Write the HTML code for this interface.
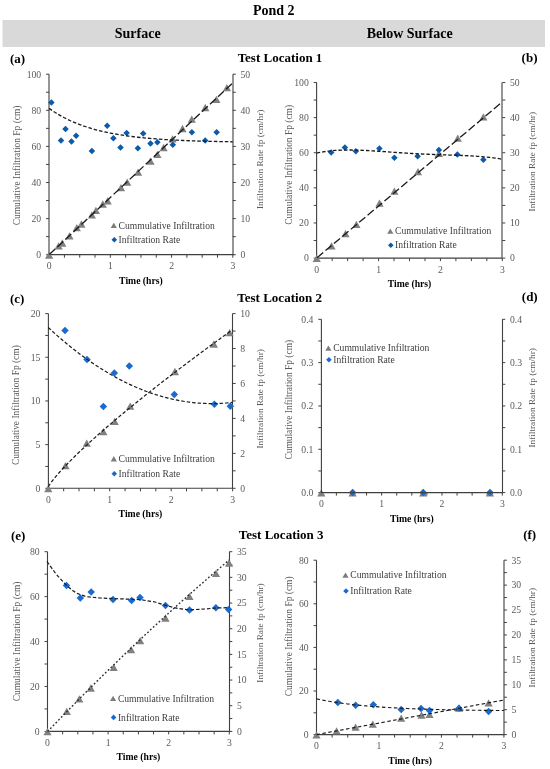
<!DOCTYPE html><html><head><meta charset="utf-8"><style>html,body{margin:0;padding:0;background:#fff;}svg{display:block;filter:blur(0.3px);font-family:"Liberation Serif",serif;}</style></head><body>
<svg width="550" height="769" viewBox="0 0 550 769" font-family='"Liberation Serif", serif' font-size="9.7" fill="#595959">
<rect x="0" y="0" width="550" height="769" fill="#fff"/>
<rect x="2.5" y="20" width="542.5" height="27" fill="#d9d9d9"/>
<text x="273.7" y="15" text-anchor="middle" font-size="14" font-weight="bold" fill="#000">Pond 2</text>
<text x="137.7" y="38.3" text-anchor="middle" font-size="14" font-weight="bold" fill="#000">Surface</text>
<text x="409.7" y="38.3" text-anchor="middle" font-size="14" font-weight="bold" fill="#000">Below Surface</text>
<text x="280" y="62" text-anchor="middle" font-size="13" font-weight="bold" fill="#000">Test Location 1</text>
<text x="279.7" y="301.6" text-anchor="middle" font-size="13" font-weight="bold" fill="#000">Test Location 2</text>
<text x="281.2" y="538.6" text-anchor="middle" font-size="13" font-weight="bold" fill="#000">Test Location 3</text>
<text x="10" y="62.5" font-size="13" font-weight="bold" fill="#000">(a)</text>
<text x="521.6" y="61.8" font-size="13" font-weight="bold" fill="#000">(b)</text>
<text x="10" y="302.5" font-size="13" font-weight="bold" fill="#000">(c)</text>
<text x="521.8" y="301.4" font-size="13" font-weight="bold" fill="#000">(d)</text>
<text x="10.9" y="540" font-size="13" font-weight="bold" fill="#000">(e)</text>
<text x="523.2" y="538.6" font-size="13" font-weight="bold" fill="#000">(f)</text>
<line x1="46.10" y1="254.70" x2="49.10" y2="254.70" stroke="#404040" stroke-width="1"/>
<text x="41.20" y="258.00" text-anchor="end">0</text>
<line x1="46.10" y1="236.65" x2="49.10" y2="236.65" stroke="#404040" stroke-width="1"/>
<line x1="46.10" y1="218.60" x2="49.10" y2="218.60" stroke="#404040" stroke-width="1"/>
<text x="41.20" y="221.90" text-anchor="end">20</text>
<line x1="46.10" y1="200.55" x2="49.10" y2="200.55" stroke="#404040" stroke-width="1"/>
<line x1="46.10" y1="182.50" x2="49.10" y2="182.50" stroke="#404040" stroke-width="1"/>
<text x="41.20" y="185.80" text-anchor="end">40</text>
<line x1="46.10" y1="164.45" x2="49.10" y2="164.45" stroke="#404040" stroke-width="1"/>
<line x1="46.10" y1="146.40" x2="49.10" y2="146.40" stroke="#404040" stroke-width="1"/>
<text x="41.20" y="149.70" text-anchor="end">60</text>
<line x1="46.10" y1="128.35" x2="49.10" y2="128.35" stroke="#404040" stroke-width="1"/>
<line x1="46.10" y1="110.30" x2="49.10" y2="110.30" stroke="#404040" stroke-width="1"/>
<text x="41.20" y="113.60" text-anchor="end">80</text>
<line x1="46.10" y1="92.25" x2="49.10" y2="92.25" stroke="#404040" stroke-width="1"/>
<line x1="46.10" y1="74.20" x2="49.10" y2="74.20" stroke="#404040" stroke-width="1"/>
<text x="41.20" y="77.50" text-anchor="end">100</text>
<line x1="232.80" y1="254.70" x2="235.80" y2="254.70" stroke="#404040" stroke-width="1"/>
<text x="240.40" y="258.00">0</text>
<line x1="232.80" y1="236.65" x2="235.80" y2="236.65" stroke="#404040" stroke-width="1"/>
<line x1="232.80" y1="218.60" x2="235.80" y2="218.60" stroke="#404040" stroke-width="1"/>
<text x="240.40" y="221.90">10</text>
<line x1="232.80" y1="200.55" x2="235.80" y2="200.55" stroke="#404040" stroke-width="1"/>
<line x1="232.80" y1="182.50" x2="235.80" y2="182.50" stroke="#404040" stroke-width="1"/>
<text x="240.40" y="185.80">20</text>
<line x1="232.80" y1="164.45" x2="235.80" y2="164.45" stroke="#404040" stroke-width="1"/>
<line x1="232.80" y1="146.40" x2="235.80" y2="146.40" stroke="#404040" stroke-width="1"/>
<text x="240.40" y="149.70">30</text>
<line x1="232.80" y1="128.35" x2="235.80" y2="128.35" stroke="#404040" stroke-width="1"/>
<line x1="232.80" y1="110.30" x2="235.80" y2="110.30" stroke="#404040" stroke-width="1"/>
<text x="240.40" y="113.60">40</text>
<line x1="232.80" y1="92.25" x2="235.80" y2="92.25" stroke="#404040" stroke-width="1"/>
<line x1="232.80" y1="74.20" x2="235.80" y2="74.20" stroke="#404040" stroke-width="1"/>
<text x="240.40" y="77.50">50</text>
<line x1="49.10" y1="254.70" x2="49.10" y2="257.70" stroke="#404040" stroke-width="1"/>
<text x="49.10" y="269.40" text-anchor="middle">0</text>
<line x1="64.41" y1="254.70" x2="64.41" y2="257.70" stroke="#404040" stroke-width="1"/>
<line x1="79.72" y1="254.70" x2="79.72" y2="257.70" stroke="#404040" stroke-width="1"/>
<line x1="95.03" y1="254.70" x2="95.03" y2="257.70" stroke="#404040" stroke-width="1"/>
<line x1="110.33" y1="254.70" x2="110.33" y2="257.70" stroke="#404040" stroke-width="1"/>
<text x="110.33" y="269.40" text-anchor="middle">1</text>
<line x1="125.64" y1="254.70" x2="125.64" y2="257.70" stroke="#404040" stroke-width="1"/>
<line x1="140.95" y1="254.70" x2="140.95" y2="257.70" stroke="#404040" stroke-width="1"/>
<line x1="156.26" y1="254.70" x2="156.26" y2="257.70" stroke="#404040" stroke-width="1"/>
<line x1="171.57" y1="254.70" x2="171.57" y2="257.70" stroke="#404040" stroke-width="1"/>
<text x="171.57" y="269.40" text-anchor="middle">2</text>
<line x1="186.88" y1="254.70" x2="186.88" y2="257.70" stroke="#404040" stroke-width="1"/>
<line x1="202.18" y1="254.70" x2="202.18" y2="257.70" stroke="#404040" stroke-width="1"/>
<line x1="217.49" y1="254.70" x2="217.49" y2="257.70" stroke="#404040" stroke-width="1"/>
<line x1="232.80" y1="254.70" x2="232.80" y2="257.70" stroke="#404040" stroke-width="1"/>
<text x="232.80" y="269.40" text-anchor="middle">3</text>
<path d="M49.00 74.20V254.60H233.00V74.20" fill="none" stroke="#404040" stroke-width="1.1"/>
<text transform="translate(20.40,165.40) rotate(-90)" text-anchor="middle" font-size="9.45">Cumulative Infiltration Fp (cm)</text>
<text transform="translate(263.00,159.30) rotate(-90)" text-anchor="middle" font-size="9.25">Infiltration Rate fp (cm/hr)</text>
<text x="140.95" y="283.60" text-anchor="middle" font-weight="bold" fill="#000" font-size="9.7">Time (hrs)</text>
<path d="M110.70 228.10L113.80 222.70L116.90 228.10Z" fill="#7c7c7c"/>
<text x="118.60" y="228.50" font-size="9.6" fill="#404040">Cummulative Infiltration</text>
<path d="M114.30 237.00L117.10 239.80L114.30 242.60L111.50 239.80Z" fill="#0c5aa8"/>
<text x="118.60" y="242.90" font-size="9.6" fill="#404040">Infiltration Rate</text>
<path d="M45.00 258.65L49.10 251.35L53.20 258.65Z" fill="#808080"/>
<path d="M54.50 249.45L58.60 242.15L62.70 249.45Z" fill="#808080"/>
<path d="M58.20 246.65L62.30 239.35L66.40 246.65Z" fill="#808080"/>
<path d="M65.40 239.45L69.50 232.15L73.60 239.45Z" fill="#808080"/>
<path d="M72.70 231.25L76.80 223.95L80.90 231.25Z" fill="#808080"/>
<path d="M77.30 227.65L81.40 220.35L85.50 227.65Z" fill="#808080"/>
<path d="M87.80 218.55L91.90 211.25L96.00 218.55Z" fill="#808080"/>
<path d="M91.80 213.95L95.90 206.65L100.00 213.95Z" fill="#808080"/>
<path d="M98.70 207.65L102.80 200.35L106.90 207.65Z" fill="#808080"/>
<path d="M103.60 204.55L107.70 197.25L111.80 204.55Z" fill="#808080"/>
<path d="M116.90 191.25L121.00 183.95L125.10 191.25Z" fill="#808080"/>
<path d="M123.10 185.75L127.20 178.45L131.30 185.75Z" fill="#808080"/>
<path d="M134.00 175.75L138.10 168.45L142.20 175.75Z" fill="#808080"/>
<path d="M146.40 164.85L150.50 157.55L154.60 164.85Z" fill="#808080"/>
<path d="M153.30 157.95L157.40 150.65L161.50 157.95Z" fill="#808080"/>
<path d="M159.50 151.15L163.60 143.85L167.70 151.15Z" fill="#808080"/>
<path d="M168.40 142.45L172.50 135.15L176.60 142.45Z" fill="#808080"/>
<path d="M178.40 132.15L182.50 124.85L186.60 132.15Z" fill="#808080"/>
<path d="M187.70 122.85L191.80 115.55L195.90 122.85Z" fill="#808080"/>
<path d="M201.20 111.15L205.30 103.85L209.40 111.15Z" fill="#808080"/>
<path d="M212.30 103.05L216.40 95.75L220.50 103.05Z" fill="#808080"/>
<path d="M222.80 91.35L226.90 84.05L231.00 91.35Z" fill="#808080"/>
<path d="M51.40 99.15L54.65 102.40L51.40 105.65L48.15 102.40Z" fill="#0c5aa8"/>
<path d="M61.00 137.15L64.25 140.40L61.00 143.65L57.75 140.40Z" fill="#0c5aa8"/>
<path d="M65.50 125.85L68.75 129.10L65.50 132.35L62.25 129.10Z" fill="#0c5aa8"/>
<path d="M71.50 138.25L74.75 141.50L71.50 144.75L68.25 141.50Z" fill="#0c5aa8"/>
<path d="M76.10 132.55L79.35 135.80L76.10 139.05L72.85 135.80Z" fill="#0c5aa8"/>
<path d="M91.90 147.65L95.15 150.90L91.90 154.15L88.65 150.90Z" fill="#0c5aa8"/>
<path d="M107.20 122.55L110.45 125.80L107.20 129.05L103.95 125.80Z" fill="#0c5aa8"/>
<path d="M113.40 134.95L116.65 138.20L113.40 141.45L110.15 138.20Z" fill="#0c5aa8"/>
<path d="M120.50 144.35L123.75 147.60L120.50 150.85L117.25 147.60Z" fill="#0c5aa8"/>
<path d="M126.60 129.65L129.85 132.90L126.60 136.15L123.35 132.90Z" fill="#0c5aa8"/>
<path d="M137.90 144.95L141.15 148.20L137.90 151.45L134.65 148.20Z" fill="#0c5aa8"/>
<path d="M143.20 130.35L146.45 133.60L143.20 136.85L139.95 133.60Z" fill="#0c5aa8"/>
<path d="M150.50 140.35L153.75 143.60L150.50 146.85L147.25 143.60Z" fill="#0c5aa8"/>
<path d="M157.40 138.95L160.65 142.20L157.40 145.45L154.15 142.20Z" fill="#0c5aa8"/>
<path d="M172.80 141.45L176.05 144.70L172.80 147.95L169.55 144.70Z" fill="#0c5aa8"/>
<path d="M191.90 128.95L195.15 132.20L191.90 135.45L188.65 132.20Z" fill="#0c5aa8"/>
<path d="M205.20 137.15L208.45 140.40L205.20 143.65L201.95 140.40Z" fill="#0c5aa8"/>
<path d="M216.60 128.95L219.85 132.20L216.60 135.45L213.35 132.20Z" fill="#0c5aa8"/>
<path d="M49.30 254.50L232.80 82.90" fill="none" stroke="#1a1a1a" stroke-width="1.3" stroke-dasharray="8 3"/>
<path d="M49.10 108.38L52.16 110.51L55.22 112.51L58.29 114.38L61.35 116.13L64.41 117.78L67.47 119.32L70.53 120.77L73.59 122.12L76.66 123.40L79.72 124.59L82.78 125.71L85.84 126.76L88.90 127.74L91.96 128.66L95.03 129.52L98.09 130.33L101.15 131.09L104.21 131.80L107.27 132.47L110.33 133.10L113.40 133.68L116.46 134.23L119.52 134.75L122.58 135.23L125.64 135.69L128.70 136.11L131.77 136.51L134.83 136.89L137.89 137.24L140.95 137.56L144.01 137.87L147.07 138.16L150.14 138.43L153.20 138.69L156.26 138.92L159.32 139.15L162.38 139.36L165.44 139.55L168.51 139.74L171.57 139.91L174.63 140.07L177.69 140.22L180.75 140.36L183.81 140.50L186.88 140.62L189.94 140.74L193.00 140.85L196.06 140.95L199.12 141.05L202.18 141.14L205.25 141.22L208.31 141.30L211.37 141.38L214.43 141.45L217.49 141.51L220.55 141.58L223.62 141.63L226.68 141.69L229.74 141.74L232.80 141.79" fill="none" stroke="#1a1a1a" stroke-width="1.3" stroke-dasharray="3.5 2"/>
<line x1="313.70" y1="258.10" x2="316.70" y2="258.10" stroke="#404040" stroke-width="1"/>
<text x="308.80" y="261.40" text-anchor="end">0</text>
<line x1="313.70" y1="240.54" x2="316.70" y2="240.54" stroke="#404040" stroke-width="1"/>
<line x1="313.70" y1="222.98" x2="316.70" y2="222.98" stroke="#404040" stroke-width="1"/>
<text x="308.80" y="226.28" text-anchor="end">20</text>
<line x1="313.70" y1="205.42" x2="316.70" y2="205.42" stroke="#404040" stroke-width="1"/>
<line x1="313.70" y1="187.86" x2="316.70" y2="187.86" stroke="#404040" stroke-width="1"/>
<text x="308.80" y="191.16" text-anchor="end">40</text>
<line x1="313.70" y1="170.30" x2="316.70" y2="170.30" stroke="#404040" stroke-width="1"/>
<line x1="313.70" y1="152.74" x2="316.70" y2="152.74" stroke="#404040" stroke-width="1"/>
<text x="308.80" y="156.04" text-anchor="end">60</text>
<line x1="313.70" y1="135.18" x2="316.70" y2="135.18" stroke="#404040" stroke-width="1"/>
<line x1="313.70" y1="117.62" x2="316.70" y2="117.62" stroke="#404040" stroke-width="1"/>
<text x="308.80" y="120.92" text-anchor="end">80</text>
<line x1="313.70" y1="100.06" x2="316.70" y2="100.06" stroke="#404040" stroke-width="1"/>
<line x1="313.70" y1="82.50" x2="316.70" y2="82.50" stroke="#404040" stroke-width="1"/>
<text x="308.80" y="85.80" text-anchor="end">100</text>
<line x1="502.30" y1="258.10" x2="505.30" y2="258.10" stroke="#404040" stroke-width="1"/>
<text x="509.90" y="261.40">0</text>
<line x1="502.30" y1="240.54" x2="505.30" y2="240.54" stroke="#404040" stroke-width="1"/>
<line x1="502.30" y1="222.98" x2="505.30" y2="222.98" stroke="#404040" stroke-width="1"/>
<text x="509.90" y="226.28">10</text>
<line x1="502.30" y1="205.42" x2="505.30" y2="205.42" stroke="#404040" stroke-width="1"/>
<line x1="502.30" y1="187.86" x2="505.30" y2="187.86" stroke="#404040" stroke-width="1"/>
<text x="509.90" y="191.16">20</text>
<line x1="502.30" y1="170.30" x2="505.30" y2="170.30" stroke="#404040" stroke-width="1"/>
<line x1="502.30" y1="152.74" x2="505.30" y2="152.74" stroke="#404040" stroke-width="1"/>
<text x="509.90" y="156.04">30</text>
<line x1="502.30" y1="135.18" x2="505.30" y2="135.18" stroke="#404040" stroke-width="1"/>
<line x1="502.30" y1="117.62" x2="505.30" y2="117.62" stroke="#404040" stroke-width="1"/>
<text x="509.90" y="120.92">40</text>
<line x1="502.30" y1="100.06" x2="505.30" y2="100.06" stroke="#404040" stroke-width="1"/>
<line x1="502.30" y1="82.50" x2="505.30" y2="82.50" stroke="#404040" stroke-width="1"/>
<text x="509.90" y="85.80">50</text>
<line x1="316.70" y1="258.10" x2="316.70" y2="261.10" stroke="#404040" stroke-width="1"/>
<text x="316.70" y="272.80" text-anchor="middle">0</text>
<line x1="332.17" y1="258.10" x2="332.17" y2="261.10" stroke="#404040" stroke-width="1"/>
<line x1="347.63" y1="258.10" x2="347.63" y2="261.10" stroke="#404040" stroke-width="1"/>
<line x1="363.10" y1="258.10" x2="363.10" y2="261.10" stroke="#404040" stroke-width="1"/>
<line x1="378.57" y1="258.10" x2="378.57" y2="261.10" stroke="#404040" stroke-width="1"/>
<text x="378.57" y="272.80" text-anchor="middle">1</text>
<line x1="394.03" y1="258.10" x2="394.03" y2="261.10" stroke="#404040" stroke-width="1"/>
<line x1="409.50" y1="258.10" x2="409.50" y2="261.10" stroke="#404040" stroke-width="1"/>
<line x1="424.97" y1="258.10" x2="424.97" y2="261.10" stroke="#404040" stroke-width="1"/>
<line x1="440.43" y1="258.10" x2="440.43" y2="261.10" stroke="#404040" stroke-width="1"/>
<text x="440.43" y="272.80" text-anchor="middle">2</text>
<line x1="455.90" y1="258.10" x2="455.90" y2="261.10" stroke="#404040" stroke-width="1"/>
<line x1="471.37" y1="258.10" x2="471.37" y2="261.10" stroke="#404040" stroke-width="1"/>
<line x1="486.83" y1="258.10" x2="486.83" y2="261.10" stroke="#404040" stroke-width="1"/>
<line x1="502.30" y1="258.10" x2="502.30" y2="261.10" stroke="#404040" stroke-width="1"/>
<text x="502.30" y="272.80" text-anchor="middle">3</text>
<path d="M316.60 82.50V258.10H502.00V82.50" fill="none" stroke="#404040" stroke-width="1.1"/>
<text transform="translate(292.00,164.80) rotate(-90)" text-anchor="middle" font-size="9.45">Cumulative Infiltration Fp (cm)</text>
<text transform="translate(534.80,161.70) rotate(-90)" text-anchor="middle" font-size="9.25">Infiltration Rate fp (cm/hr)</text>
<text x="409.50" y="287.00" text-anchor="middle" font-weight="bold" fill="#000" font-size="9.7">Time (hrs)</text>
<path d="M387.20 233.80L390.30 228.40L393.40 233.80Z" fill="#7c7c7c"/>
<text x="395.10" y="234.20" font-size="9.6" fill="#404040">Cummulative Infiltration</text>
<path d="M390.80 242.50L393.60 245.30L390.80 248.10L388.00 245.30Z" fill="#0c5aa8"/>
<text x="395.10" y="248.40" font-size="9.6" fill="#404040">Infiltration Rate</text>
<path d="M312.60 262.05L316.70 254.75L320.80 262.05Z" fill="#808080"/>
<path d="M327.40 249.55L331.50 242.25L335.60 249.55Z" fill="#808080"/>
<path d="M341.40 237.35L345.50 230.05L349.60 237.35Z" fill="#808080"/>
<path d="M352.30 228.05L356.40 220.75L360.50 228.05Z" fill="#808080"/>
<path d="M375.40 206.75L379.50 199.45L383.60 206.75Z" fill="#808080"/>
<path d="M390.30 194.85L394.40 187.55L398.50 194.85Z" fill="#808080"/>
<path d="M413.90 175.25L418.00 167.95L422.10 175.25Z" fill="#808080"/>
<path d="M434.80 157.05L438.90 149.75L443.00 157.05Z" fill="#808080"/>
<path d="M453.70 141.75L457.80 134.45L461.90 141.75Z" fill="#808080"/>
<path d="M479.30 120.45L483.40 113.15L487.50 120.45Z" fill="#808080"/>
<path d="M331.20 149.25L334.45 152.50L331.20 155.75L327.95 152.50Z" fill="#0c5aa8"/>
<path d="M344.90 144.25L348.15 147.50L344.90 150.75L341.65 147.50Z" fill="#0c5aa8"/>
<path d="M355.80 147.95L359.05 151.20L355.80 154.45L352.55 151.20Z" fill="#0c5aa8"/>
<path d="M379.40 145.25L382.65 148.50L379.40 151.75L376.15 148.50Z" fill="#0c5aa8"/>
<path d="M394.40 154.45L397.65 157.70L394.40 160.95L391.15 157.70Z" fill="#0c5aa8"/>
<path d="M417.60 152.95L420.85 156.20L417.60 159.45L414.35 156.20Z" fill="#0c5aa8"/>
<path d="M438.90 146.65L442.15 149.90L438.90 153.15L435.65 149.90Z" fill="#0c5aa8"/>
<path d="M457.40 151.15L460.65 154.40L457.40 157.65L454.15 154.40Z" fill="#0c5aa8"/>
<path d="M483.40 156.55L486.65 159.80L483.40 163.05L480.15 159.80Z" fill="#0c5aa8"/>
<path d="M317.10 257.70L502.30 101.90" fill="none" stroke="#1a1a1a" stroke-width="1.3" stroke-dasharray="8 3"/>
<path d="M316.70 153.13L319.79 152.48L322.89 151.92L325.98 151.44L329.07 151.05L332.17 150.72L335.26 150.47L338.35 150.27L341.45 150.13L344.54 150.04L347.63 150.00L350.73 150.00L353.82 150.04L356.91 150.11L360.01 150.21L363.10 150.34L366.19 150.49L369.29 150.66L372.38 150.84L375.47 151.03L378.57 151.24L381.66 151.45L384.75 151.67L387.85 151.88L390.94 152.10L394.03 152.32L397.13 152.53L400.22 152.74L403.31 152.94L406.41 153.14L409.50 153.33L412.59 153.51L415.69 153.68L418.78 153.84L421.87 153.99L424.97 154.14L428.06 154.27L431.15 154.40L434.25 154.52L437.34 154.63L440.43 154.74L443.53 154.84L446.62 154.94L449.71 155.04L452.81 155.14L455.90 155.25L458.99 155.36L462.09 155.48L465.18 155.61L468.27 155.75L471.37 155.91L474.46 156.09L477.55 156.29L480.65 156.52L483.74 156.78L486.83 157.08L489.93 157.41L493.02 157.79L496.11 158.22L499.21 158.71L502.30 159.25" fill="none" stroke="#1a1a1a" stroke-width="1.3" stroke-dasharray="3.5 2"/>
<line x1="45.30" y1="488.30" x2="48.30" y2="488.30" stroke="#404040" stroke-width="1"/>
<text x="40.40" y="491.60" text-anchor="end">0</text>
<line x1="45.30" y1="466.46" x2="48.30" y2="466.46" stroke="#404040" stroke-width="1"/>
<line x1="45.30" y1="444.62" x2="48.30" y2="444.62" stroke="#404040" stroke-width="1"/>
<text x="40.40" y="447.93" text-anchor="end">5</text>
<line x1="45.30" y1="422.79" x2="48.30" y2="422.79" stroke="#404040" stroke-width="1"/>
<line x1="45.30" y1="400.95" x2="48.30" y2="400.95" stroke="#404040" stroke-width="1"/>
<text x="40.40" y="404.25" text-anchor="end">10</text>
<line x1="45.30" y1="379.11" x2="48.30" y2="379.11" stroke="#404040" stroke-width="1"/>
<line x1="45.30" y1="357.27" x2="48.30" y2="357.27" stroke="#404040" stroke-width="1"/>
<text x="40.40" y="360.57" text-anchor="end">15</text>
<line x1="45.30" y1="335.44" x2="48.30" y2="335.44" stroke="#404040" stroke-width="1"/>
<line x1="45.30" y1="313.60" x2="48.30" y2="313.60" stroke="#404040" stroke-width="1"/>
<text x="40.40" y="316.90" text-anchor="end">20</text>
<line x1="232.60" y1="488.30" x2="235.60" y2="488.30" stroke="#404040" stroke-width="1"/>
<text x="240.20" y="491.60">0</text>
<line x1="232.60" y1="470.83" x2="235.60" y2="470.83" stroke="#404040" stroke-width="1"/>
<line x1="232.60" y1="453.36" x2="235.60" y2="453.36" stroke="#404040" stroke-width="1"/>
<text x="240.20" y="456.66">2</text>
<line x1="232.60" y1="435.89" x2="235.60" y2="435.89" stroke="#404040" stroke-width="1"/>
<line x1="232.60" y1="418.42" x2="235.60" y2="418.42" stroke="#404040" stroke-width="1"/>
<text x="240.20" y="421.72">4</text>
<line x1="232.60" y1="400.95" x2="235.60" y2="400.95" stroke="#404040" stroke-width="1"/>
<line x1="232.60" y1="383.48" x2="235.60" y2="383.48" stroke="#404040" stroke-width="1"/>
<text x="240.20" y="386.78">6</text>
<line x1="232.60" y1="366.01" x2="235.60" y2="366.01" stroke="#404040" stroke-width="1"/>
<line x1="232.60" y1="348.54" x2="235.60" y2="348.54" stroke="#404040" stroke-width="1"/>
<text x="240.20" y="351.84">8</text>
<line x1="232.60" y1="331.07" x2="235.60" y2="331.07" stroke="#404040" stroke-width="1"/>
<line x1="232.60" y1="313.60" x2="235.60" y2="313.60" stroke="#404040" stroke-width="1"/>
<text x="240.20" y="316.90">10</text>
<line x1="48.30" y1="488.30" x2="48.30" y2="491.30" stroke="#404040" stroke-width="1"/>
<text x="48.30" y="503.00" text-anchor="middle">0</text>
<line x1="63.66" y1="488.30" x2="63.66" y2="491.30" stroke="#404040" stroke-width="1"/>
<line x1="79.02" y1="488.30" x2="79.02" y2="491.30" stroke="#404040" stroke-width="1"/>
<line x1="94.38" y1="488.30" x2="94.38" y2="491.30" stroke="#404040" stroke-width="1"/>
<line x1="109.73" y1="488.30" x2="109.73" y2="491.30" stroke="#404040" stroke-width="1"/>
<text x="109.73" y="503.00" text-anchor="middle">1</text>
<line x1="125.09" y1="488.30" x2="125.09" y2="491.30" stroke="#404040" stroke-width="1"/>
<line x1="140.45" y1="488.30" x2="140.45" y2="491.30" stroke="#404040" stroke-width="1"/>
<line x1="155.81" y1="488.30" x2="155.81" y2="491.30" stroke="#404040" stroke-width="1"/>
<line x1="171.17" y1="488.30" x2="171.17" y2="491.30" stroke="#404040" stroke-width="1"/>
<text x="171.17" y="503.00" text-anchor="middle">2</text>
<line x1="186.52" y1="488.30" x2="186.52" y2="491.30" stroke="#404040" stroke-width="1"/>
<line x1="201.88" y1="488.30" x2="201.88" y2="491.30" stroke="#404040" stroke-width="1"/>
<line x1="217.24" y1="488.30" x2="217.24" y2="491.30" stroke="#404040" stroke-width="1"/>
<line x1="232.60" y1="488.30" x2="232.60" y2="491.30" stroke="#404040" stroke-width="1"/>
<text x="232.60" y="503.00" text-anchor="middle">3</text>
<path d="M48.40 313.60V488.30H232.50V313.60" fill="none" stroke="#404040" stroke-width="1.1"/>
<text transform="translate(18.60,405.10) rotate(-90)" text-anchor="middle" font-size="9.45">Cumulative Infiltration Fp (cm)</text>
<text transform="translate(263.00,398.80) rotate(-90)" text-anchor="middle" font-size="9.25">Infiltration Rate fp (cm/hr)</text>
<text x="140.45" y="517.20" text-anchor="middle" font-weight="bold" fill="#000" font-size="9.7">Time (hrs)</text>
<path d="M110.70 461.50L113.80 456.10L116.90 461.50Z" fill="#7c7c7c"/>
<text x="118.60" y="461.90" font-size="9.6" fill="#404040">Cummulative Infiltration</text>
<path d="M114.30 471.00L117.10 473.80L114.30 476.60L111.50 473.80Z" fill="#1a6bd0"/>
<text x="118.60" y="476.90" font-size="9.6" fill="#404040">Infiltration Rate</text>
<path d="M44.20 492.25L48.30 484.95L52.40 492.25Z" fill="#808080"/>
<path d="M61.40 469.35L65.50 462.05L69.60 469.35Z" fill="#808080"/>
<path d="M82.70 446.75L86.80 439.45L90.90 446.75Z" fill="#808080"/>
<path d="M99.30 435.35L103.40 428.05L107.50 435.35Z" fill="#808080"/>
<path d="M110.60 424.95L114.70 417.65L118.80 424.95Z" fill="#808080"/>
<path d="M126.10 409.75L130.20 402.45L134.30 409.75Z" fill="#808080"/>
<path d="M170.80 375.15L174.90 367.85L179.00 375.15Z" fill="#808080"/>
<path d="M209.80 347.65L213.90 340.35L218.00 347.65Z" fill="#808080"/>
<path d="M225.60 336.35L229.70 329.05L233.80 336.35Z" fill="#808080"/>
<path d="M65.00 326.65L68.75 330.40L65.00 334.15L61.25 330.40Z" fill="#1a6bd0"/>
<path d="M87.00 355.85L90.75 359.60L87.00 363.35L83.25 359.60Z" fill="#1a6bd0"/>
<path d="M103.40 402.65L107.15 406.40L103.40 410.15L99.65 406.40Z" fill="#1a6bd0"/>
<path d="M114.30 369.35L118.05 373.10L114.30 376.85L110.55 373.10Z" fill="#1a6bd0"/>
<path d="M129.30 362.25L133.05 366.00L129.30 369.75L125.55 366.00Z" fill="#1a6bd0"/>
<path d="M174.30 390.75L178.05 394.50L174.30 398.25L170.55 394.50Z" fill="#1a6bd0"/>
<path d="M214.40 400.45L218.15 404.20L214.40 407.95L210.65 404.20Z" fill="#1a6bd0"/>
<path d="M230.30 402.55L234.05 406.30L230.30 410.05L226.55 406.30Z" fill="#1a6bd0"/>
<path d="M48.30 486.71L49.84 484.25L51.37 482.09L52.91 480.08L54.44 478.16L55.98 476.31L57.52 474.51L59.05 472.76L60.59 471.05L62.12 469.37L63.66 467.72L65.19 466.10L66.73 464.50L68.27 462.92L69.80 461.35L71.34 459.81L72.87 458.28L74.41 456.76L75.94 455.26L77.48 453.78L79.02 452.30L80.55 450.84L82.09 449.39L83.62 447.95L85.16 446.51L86.70 445.09L88.23 443.68L89.77 442.27L91.30 440.88L92.84 439.49L94.38 438.11L95.91 436.73L97.45 435.37L98.98 434.01L100.52 432.65L102.05 431.31L103.59 429.96L105.13 428.63L106.66 427.30L108.20 425.98L109.73 424.66L111.27 423.35L112.81 422.04L114.34 420.73L115.88 419.44L117.41 418.14L118.95 416.85L120.48 415.57L122.02 414.29L123.56 413.01L125.09 411.74L126.63 410.47L128.16 409.21L129.70 407.95L131.24 406.69L132.77 405.44L134.31 404.19L135.84 402.95L137.38 401.71L138.91 400.47L140.45 399.23L141.99 398.00L143.52 396.77L145.06 395.55L146.59 394.33L148.13 393.11L149.67 391.89L151.20 390.68L152.74 389.47L154.27 388.26L155.81 387.05L157.34 385.85L158.88 384.65L160.42 383.46L161.95 382.26L163.49 381.07L165.02 379.88L166.56 378.70L168.10 377.51L169.63 376.33L171.17 375.15L172.70 373.98L174.24 372.80L175.77 371.63L177.31 370.46L178.85 369.29L180.38 368.13L181.92 366.97L183.45 365.80L184.99 364.65L186.52 363.49L188.06 362.33L189.60 361.18L191.13 360.03L192.67 358.88L194.20 357.74L195.74 356.59L197.28 355.45L198.81 354.31L200.35 353.17L201.88 352.03L203.42 350.90L204.96 349.76L206.49 348.63L208.03 347.50L209.56 346.37L211.10 345.24L212.63 344.12L214.17 343.00L215.71 341.88L217.24 340.76L218.78 339.64L220.31 338.52L221.85 337.41L223.38 336.29L224.92 335.18L226.46 334.07L227.99 332.96L229.53 331.85L231.06 330.75L232.60 329.64" fill="none" stroke="#1a1a1a" stroke-width="1.2" stroke-dasharray="3.5 2"/>
<path d="M48.30 327.52L51.37 330.35L54.44 333.13L57.52 335.85L60.59 338.52L63.66 341.13L66.73 343.70L69.80 346.20L72.87 348.66L75.94 351.06L79.02 353.40L82.09 355.70L85.16 357.94L88.23 360.12L91.30 362.25L94.38 364.33L97.45 366.36L100.52 368.33L103.59 370.25L106.66 372.11L109.73 373.92L112.81 375.68L115.88 377.38L118.95 379.03L122.02 380.63L125.09 382.17L128.16 383.66L131.24 385.09L134.31 386.47L137.38 387.80L140.45 389.07L143.52 390.30L146.59 391.46L149.67 392.58L152.74 393.63L155.81 394.64L158.88 395.59L161.95 396.49L165.02 397.34L168.10 398.13L171.17 398.87L174.24 399.55L177.31 400.18L180.38 400.76L183.45 401.28L186.52 401.75L189.60 402.17L192.67 402.53L195.74 402.84L198.81 403.10L201.88 403.30L204.96 403.44L208.03 403.54L211.10 403.58L214.17 403.57L217.24 403.50L220.31 403.38L223.38 403.21L226.46 402.98L229.53 402.70L232.60 402.36" fill="none" stroke="#1a1a1a" stroke-width="1.2" stroke-dasharray="3.5 2"/>
<line x1="318.30" y1="492.60" x2="321.30" y2="492.60" stroke="#404040" stroke-width="1"/>
<text x="313.40" y="495.90" text-anchor="end">0.0</text>
<line x1="318.30" y1="470.94" x2="321.30" y2="470.94" stroke="#404040" stroke-width="1"/>
<line x1="318.30" y1="449.28" x2="321.30" y2="449.28" stroke="#404040" stroke-width="1"/>
<text x="313.40" y="452.58" text-anchor="end">0.1</text>
<line x1="318.30" y1="427.61" x2="321.30" y2="427.61" stroke="#404040" stroke-width="1"/>
<line x1="318.30" y1="405.95" x2="321.30" y2="405.95" stroke="#404040" stroke-width="1"/>
<text x="313.40" y="409.25" text-anchor="end">0.2</text>
<line x1="318.30" y1="384.29" x2="321.30" y2="384.29" stroke="#404040" stroke-width="1"/>
<line x1="318.30" y1="362.62" x2="321.30" y2="362.62" stroke="#404040" stroke-width="1"/>
<text x="313.40" y="365.93" text-anchor="end">0.3</text>
<line x1="318.30" y1="340.96" x2="321.30" y2="340.96" stroke="#404040" stroke-width="1"/>
<line x1="318.30" y1="319.30" x2="321.30" y2="319.30" stroke="#404040" stroke-width="1"/>
<text x="313.40" y="322.60" text-anchor="end">0.4</text>
<line x1="502.30" y1="492.60" x2="505.30" y2="492.60" stroke="#404040" stroke-width="1"/>
<text x="509.90" y="495.90">0.0</text>
<line x1="502.30" y1="470.94" x2="505.30" y2="470.94" stroke="#404040" stroke-width="1"/>
<line x1="502.30" y1="449.28" x2="505.30" y2="449.28" stroke="#404040" stroke-width="1"/>
<text x="509.90" y="452.58">0.1</text>
<line x1="502.30" y1="427.61" x2="505.30" y2="427.61" stroke="#404040" stroke-width="1"/>
<line x1="502.30" y1="405.95" x2="505.30" y2="405.95" stroke="#404040" stroke-width="1"/>
<text x="509.90" y="409.25">0.2</text>
<line x1="502.30" y1="384.29" x2="505.30" y2="384.29" stroke="#404040" stroke-width="1"/>
<line x1="502.30" y1="362.62" x2="505.30" y2="362.62" stroke="#404040" stroke-width="1"/>
<text x="509.90" y="365.93">0.3</text>
<line x1="502.30" y1="340.96" x2="505.30" y2="340.96" stroke="#404040" stroke-width="1"/>
<line x1="502.30" y1="319.30" x2="505.30" y2="319.30" stroke="#404040" stroke-width="1"/>
<text x="509.90" y="322.60">0.4</text>
<line x1="321.30" y1="492.60" x2="321.30" y2="495.60" stroke="#404040" stroke-width="1"/>
<text x="321.30" y="507.30" text-anchor="middle">0</text>
<line x1="336.38" y1="492.60" x2="336.38" y2="495.60" stroke="#404040" stroke-width="1"/>
<line x1="351.47" y1="492.60" x2="351.47" y2="495.60" stroke="#404040" stroke-width="1"/>
<line x1="366.55" y1="492.60" x2="366.55" y2="495.60" stroke="#404040" stroke-width="1"/>
<line x1="381.63" y1="492.60" x2="381.63" y2="495.60" stroke="#404040" stroke-width="1"/>
<text x="381.63" y="507.30" text-anchor="middle">1</text>
<line x1="396.72" y1="492.60" x2="396.72" y2="495.60" stroke="#404040" stroke-width="1"/>
<line x1="411.80" y1="492.60" x2="411.80" y2="495.60" stroke="#404040" stroke-width="1"/>
<line x1="426.88" y1="492.60" x2="426.88" y2="495.60" stroke="#404040" stroke-width="1"/>
<line x1="441.97" y1="492.60" x2="441.97" y2="495.60" stroke="#404040" stroke-width="1"/>
<text x="441.97" y="507.30" text-anchor="middle">2</text>
<line x1="457.05" y1="492.60" x2="457.05" y2="495.60" stroke="#404040" stroke-width="1"/>
<line x1="472.13" y1="492.60" x2="472.13" y2="495.60" stroke="#404040" stroke-width="1"/>
<line x1="487.22" y1="492.60" x2="487.22" y2="495.60" stroke="#404040" stroke-width="1"/>
<line x1="502.30" y1="492.60" x2="502.30" y2="495.60" stroke="#404040" stroke-width="1"/>
<text x="502.30" y="507.30" text-anchor="middle">3</text>
<text transform="translate(292.00,399.70) rotate(-90)" text-anchor="middle" font-size="9.45">Cumulative Infiltration Fp (cm)</text>
<text transform="translate(534.80,397.80) rotate(-90)" text-anchor="middle" font-size="9.25">Infiltration Rate fp (cm/hr)</text>
<text x="411.80" y="521.50" text-anchor="middle" font-weight="bold" fill="#000" font-size="9.7">Time (hrs)</text>
<path d="M325.30 350.80L328.40 345.40L331.50 350.80Z" fill="#7c7c7c"/>
<text x="333.20" y="351.20" font-size="9.6" fill="#404040">Cummulative Infiltration</text>
<path d="M328.90 356.90L331.70 359.70L328.90 362.50L326.10 359.70Z" fill="#1a6bd0"/>
<text x="333.20" y="362.80" font-size="9.6" fill="#404040">Infiltration Rate</text>
<path d="M317.20 496.55L321.30 489.25L325.40 496.55Z" fill="#808080"/>
<path d="M348.50 496.45L352.60 489.15L356.70 496.45Z" fill="#808080"/>
<path d="M419.10 496.45L423.20 489.15L427.30 496.45Z" fill="#808080"/>
<path d="M485.90 496.45L490.00 489.15L494.10 496.45Z" fill="#808080"/>
<path d="M352.60 488.85L356.35 492.60L352.60 496.35L348.85 492.60Z" fill="#1a6bd0"/>
<path d="M423.20 488.85L426.95 492.60L423.20 496.35L419.45 492.60Z" fill="#1a6bd0"/>
<path d="M490.00 488.85L493.75 492.60L490.00 496.35L486.25 492.60Z" fill="#1a6bd0"/>
<path d="M321.40 319.30V492.60H502.50V319.30" fill="none" stroke="#404040" stroke-width="1.1"/>
<line x1="44.50" y1="731.40" x2="47.50" y2="731.40" stroke="#404040" stroke-width="1"/>
<text x="39.60" y="734.70" text-anchor="end">0</text>
<line x1="44.50" y1="708.94" x2="47.50" y2="708.94" stroke="#404040" stroke-width="1"/>
<line x1="44.50" y1="686.48" x2="47.50" y2="686.48" stroke="#404040" stroke-width="1"/>
<text x="39.60" y="689.77" text-anchor="end">20</text>
<line x1="44.50" y1="664.01" x2="47.50" y2="664.01" stroke="#404040" stroke-width="1"/>
<line x1="44.50" y1="641.55" x2="47.50" y2="641.55" stroke="#404040" stroke-width="1"/>
<text x="39.60" y="644.85" text-anchor="end">40</text>
<line x1="44.50" y1="619.09" x2="47.50" y2="619.09" stroke="#404040" stroke-width="1"/>
<line x1="44.50" y1="596.62" x2="47.50" y2="596.62" stroke="#404040" stroke-width="1"/>
<text x="39.60" y="599.92" text-anchor="end">60</text>
<line x1="44.50" y1="574.16" x2="47.50" y2="574.16" stroke="#404040" stroke-width="1"/>
<line x1="44.50" y1="551.70" x2="47.50" y2="551.70" stroke="#404040" stroke-width="1"/>
<text x="39.60" y="555.00" text-anchor="end">80</text>
<line x1="229.30" y1="731.40" x2="232.30" y2="731.40" stroke="#404040" stroke-width="1"/>
<text x="236.90" y="734.70">0</text>
<line x1="229.30" y1="718.56" x2="232.30" y2="718.56" stroke="#404040" stroke-width="1"/>
<line x1="229.30" y1="705.73" x2="232.30" y2="705.73" stroke="#404040" stroke-width="1"/>
<text x="236.90" y="709.03">5</text>
<line x1="229.30" y1="692.89" x2="232.30" y2="692.89" stroke="#404040" stroke-width="1"/>
<line x1="229.30" y1="680.06" x2="232.30" y2="680.06" stroke="#404040" stroke-width="1"/>
<text x="236.90" y="683.36">10</text>
<line x1="229.30" y1="667.22" x2="232.30" y2="667.22" stroke="#404040" stroke-width="1"/>
<line x1="229.30" y1="654.39" x2="232.30" y2="654.39" stroke="#404040" stroke-width="1"/>
<text x="236.90" y="657.69">15</text>
<line x1="229.30" y1="641.55" x2="232.30" y2="641.55" stroke="#404040" stroke-width="1"/>
<line x1="229.30" y1="628.71" x2="232.30" y2="628.71" stroke="#404040" stroke-width="1"/>
<text x="236.90" y="632.01">20</text>
<line x1="229.30" y1="615.88" x2="232.30" y2="615.88" stroke="#404040" stroke-width="1"/>
<line x1="229.30" y1="603.04" x2="232.30" y2="603.04" stroke="#404040" stroke-width="1"/>
<text x="236.90" y="606.34">25</text>
<line x1="229.30" y1="590.21" x2="232.30" y2="590.21" stroke="#404040" stroke-width="1"/>
<line x1="229.30" y1="577.37" x2="232.30" y2="577.37" stroke="#404040" stroke-width="1"/>
<text x="236.90" y="580.67">30</text>
<line x1="229.30" y1="564.54" x2="232.30" y2="564.54" stroke="#404040" stroke-width="1"/>
<line x1="229.30" y1="551.70" x2="232.30" y2="551.70" stroke="#404040" stroke-width="1"/>
<text x="236.90" y="555.00">35</text>
<line x1="47.50" y1="731.40" x2="47.50" y2="734.40" stroke="#404040" stroke-width="1"/>
<text x="47.50" y="746.10" text-anchor="middle">0</text>
<line x1="62.65" y1="731.40" x2="62.65" y2="734.40" stroke="#404040" stroke-width="1"/>
<line x1="77.80" y1="731.40" x2="77.80" y2="734.40" stroke="#404040" stroke-width="1"/>
<line x1="92.95" y1="731.40" x2="92.95" y2="734.40" stroke="#404040" stroke-width="1"/>
<line x1="108.10" y1="731.40" x2="108.10" y2="734.40" stroke="#404040" stroke-width="1"/>
<text x="108.10" y="746.10" text-anchor="middle">1</text>
<line x1="123.25" y1="731.40" x2="123.25" y2="734.40" stroke="#404040" stroke-width="1"/>
<line x1="138.40" y1="731.40" x2="138.40" y2="734.40" stroke="#404040" stroke-width="1"/>
<line x1="153.55" y1="731.40" x2="153.55" y2="734.40" stroke="#404040" stroke-width="1"/>
<line x1="168.70" y1="731.40" x2="168.70" y2="734.40" stroke="#404040" stroke-width="1"/>
<text x="168.70" y="746.10" text-anchor="middle">2</text>
<line x1="183.85" y1="731.40" x2="183.85" y2="734.40" stroke="#404040" stroke-width="1"/>
<line x1="199.00" y1="731.40" x2="199.00" y2="734.40" stroke="#404040" stroke-width="1"/>
<line x1="214.15" y1="731.40" x2="214.15" y2="734.40" stroke="#404040" stroke-width="1"/>
<line x1="229.30" y1="731.40" x2="229.30" y2="734.40" stroke="#404040" stroke-width="1"/>
<text x="229.30" y="746.10" text-anchor="middle">3</text>
<path d="M47.50 551.70V731.40H229.50V551.70" fill="none" stroke="#404040" stroke-width="1.1"/>
<text transform="translate(19.80,641.40) rotate(-90)" text-anchor="middle" font-size="9.45">Cumulative Infiltration Fp (cm)</text>
<text transform="translate(263.00,633.00) rotate(-90)" text-anchor="middle" font-size="9.25">Infiltration Rate fp (cm/hr)</text>
<text x="138.40" y="760.30" text-anchor="middle" font-weight="bold" fill="#000" font-size="9.7">Time (hrs)</text>
<path d="M110.00 701.10L113.10 695.70L116.20 701.10Z" fill="#7c7c7c"/>
<text x="117.90" y="701.50" font-size="9.6" fill="#404040">Cummulative Infiltration</text>
<path d="M113.60 714.60L116.40 717.40L113.60 720.20L110.80 717.40Z" fill="#1a6bd0"/>
<text x="117.90" y="720.50" font-size="9.6" fill="#404040">Infiltration Rate</text>
<path d="M43.40 735.35L47.50 728.05L51.60 735.35Z" fill="#808080"/>
<path d="M62.70 714.95L66.80 707.65L70.90 714.95Z" fill="#808080"/>
<path d="M75.20 702.55L79.30 695.25L83.40 702.55Z" fill="#808080"/>
<path d="M86.70 691.65L90.80 684.35L94.90 691.65Z" fill="#808080"/>
<path d="M109.60 670.95L113.70 663.65L117.80 670.95Z" fill="#808080"/>
<path d="M127.00 653.25L131.10 645.95L135.20 653.25Z" fill="#808080"/>
<path d="M136.10 644.35L140.20 637.05L144.30 644.35Z" fill="#808080"/>
<path d="M161.40 621.65L165.50 614.35L169.60 621.65Z" fill="#808080"/>
<path d="M185.40 600.05L189.50 592.75L193.60 600.05Z" fill="#808080"/>
<path d="M211.90 576.95L216.00 569.65L220.10 576.95Z" fill="#808080"/>
<path d="M225.00 566.65L229.10 559.35L233.20 566.65Z" fill="#808080"/>
<path d="M66.50 581.75L70.25 585.50L66.50 589.25L62.75 585.50Z" fill="#1a6bd0"/>
<path d="M80.30 594.35L84.05 598.10L80.30 601.85L76.55 598.10Z" fill="#1a6bd0"/>
<path d="M91.20 588.25L94.95 592.00L91.20 595.75L87.45 592.00Z" fill="#1a6bd0"/>
<path d="M113.00 595.65L116.75 599.40L113.00 603.15L109.25 599.40Z" fill="#1a6bd0"/>
<path d="M131.60 596.85L135.35 600.60L131.60 604.35L127.85 600.60Z" fill="#1a6bd0"/>
<path d="M140.00 593.85L143.75 597.60L140.00 601.35L136.25 597.60Z" fill="#1a6bd0"/>
<path d="M165.50 601.65L169.25 605.40L165.50 609.15L161.75 605.40Z" fill="#1a6bd0"/>
<path d="M189.50 606.15L193.25 609.90L189.50 613.65L185.75 609.90Z" fill="#1a6bd0"/>
<path d="M215.90 604.05L219.65 607.80L215.90 611.55L212.15 607.80Z" fill="#1a6bd0"/>
<path d="M228.60 605.65L232.35 609.40L228.60 613.15L224.85 609.40Z" fill="#1a6bd0"/>
<path d="M47.50 731.60L50.53 728.44L53.56 725.29L56.59 722.16L59.62 719.03L62.65 715.91L65.68 712.80L68.71 709.70L71.74 706.62L74.77 703.54L77.80 700.47L80.83 697.41L83.86 694.36L86.89 691.33L89.92 688.30L92.95 685.28L95.98 682.27L99.01 679.28L102.04 676.29L105.07 673.31L108.10 670.35L111.13 667.39L114.16 664.44L117.19 661.51L120.22 658.58L123.25 655.66L126.28 652.75L129.31 649.86L132.34 646.97L135.37 644.09L138.40 641.23L141.43 638.37L144.46 635.53L147.49 632.69L150.52 629.86L153.55 627.05L156.58 624.24L159.61 621.44L162.64 618.66L165.67 615.88L168.70 613.12L171.73 610.36L174.76 607.62L177.79 604.88L180.82 602.15L183.85 599.44L186.88 596.73L189.91 594.04L192.94 591.35L195.97 588.68L199.00 586.01L202.03 583.36L205.06 580.71L208.09 578.08L211.12 575.45L214.15 572.84L217.18 570.23L220.21 567.64L223.24 565.05L226.27 562.48L229.30 559.91" fill="none" stroke="#2a2a2a" stroke-width="1.35" stroke-dasharray="1.8 2.1"/>
<path d="M47.00 561.50L56.00 574.00L66.50 585.50L76.00 593.00L86.00 596.60L100.00 598.00L120.00 598.80L140.00 599.60L155.00 602.00L165.50 605.40L178.00 608.50L189.50 609.90L205.00 609.00L216.00 608.00L229.30 607.60" fill="none" stroke="#1a1a1a" stroke-width="1.2" stroke-dasharray="3.5 2"/>
<line x1="313.50" y1="734.60" x2="316.50" y2="734.60" stroke="#404040" stroke-width="1"/>
<text x="308.60" y="737.90" text-anchor="end">0</text>
<line x1="313.50" y1="712.80" x2="316.50" y2="712.80" stroke="#404040" stroke-width="1"/>
<line x1="313.50" y1="691.00" x2="316.50" y2="691.00" stroke="#404040" stroke-width="1"/>
<text x="308.60" y="694.30" text-anchor="end">20</text>
<line x1="313.50" y1="669.20" x2="316.50" y2="669.20" stroke="#404040" stroke-width="1"/>
<line x1="313.50" y1="647.40" x2="316.50" y2="647.40" stroke="#404040" stroke-width="1"/>
<text x="308.60" y="650.70" text-anchor="end">40</text>
<line x1="313.50" y1="625.60" x2="316.50" y2="625.60" stroke="#404040" stroke-width="1"/>
<line x1="313.50" y1="603.80" x2="316.50" y2="603.80" stroke="#404040" stroke-width="1"/>
<text x="308.60" y="607.10" text-anchor="end">60</text>
<line x1="313.50" y1="582.00" x2="316.50" y2="582.00" stroke="#404040" stroke-width="1"/>
<line x1="313.50" y1="560.20" x2="316.50" y2="560.20" stroke="#404040" stroke-width="1"/>
<text x="308.60" y="563.50" text-anchor="end">80</text>
<line x1="503.90" y1="734.60" x2="506.90" y2="734.60" stroke="#404040" stroke-width="1"/>
<text x="511.50" y="737.90">0</text>
<line x1="503.90" y1="722.14" x2="506.90" y2="722.14" stroke="#404040" stroke-width="1"/>
<line x1="503.90" y1="709.69" x2="506.90" y2="709.69" stroke="#404040" stroke-width="1"/>
<text x="511.50" y="712.99">5</text>
<line x1="503.90" y1="697.23" x2="506.90" y2="697.23" stroke="#404040" stroke-width="1"/>
<line x1="503.90" y1="684.77" x2="506.90" y2="684.77" stroke="#404040" stroke-width="1"/>
<text x="511.50" y="688.07">10</text>
<line x1="503.90" y1="672.31" x2="506.90" y2="672.31" stroke="#404040" stroke-width="1"/>
<line x1="503.90" y1="659.86" x2="506.90" y2="659.86" stroke="#404040" stroke-width="1"/>
<text x="511.50" y="663.16">15</text>
<line x1="503.90" y1="647.40" x2="506.90" y2="647.40" stroke="#404040" stroke-width="1"/>
<line x1="503.90" y1="634.94" x2="506.90" y2="634.94" stroke="#404040" stroke-width="1"/>
<text x="511.50" y="638.24">20</text>
<line x1="503.90" y1="622.49" x2="506.90" y2="622.49" stroke="#404040" stroke-width="1"/>
<line x1="503.90" y1="610.03" x2="506.90" y2="610.03" stroke="#404040" stroke-width="1"/>
<text x="511.50" y="613.33">25</text>
<line x1="503.90" y1="597.57" x2="506.90" y2="597.57" stroke="#404040" stroke-width="1"/>
<line x1="503.90" y1="585.11" x2="506.90" y2="585.11" stroke="#404040" stroke-width="1"/>
<text x="511.50" y="588.41">30</text>
<line x1="503.90" y1="572.66" x2="506.90" y2="572.66" stroke="#404040" stroke-width="1"/>
<line x1="503.90" y1="560.20" x2="506.90" y2="560.20" stroke="#404040" stroke-width="1"/>
<text x="511.50" y="563.50">35</text>
<line x1="316.50" y1="734.60" x2="316.50" y2="737.60" stroke="#404040" stroke-width="1"/>
<text x="316.50" y="749.30" text-anchor="middle">0</text>
<line x1="332.12" y1="734.60" x2="332.12" y2="737.60" stroke="#404040" stroke-width="1"/>
<line x1="347.73" y1="734.60" x2="347.73" y2="737.60" stroke="#404040" stroke-width="1"/>
<line x1="363.35" y1="734.60" x2="363.35" y2="737.60" stroke="#404040" stroke-width="1"/>
<line x1="378.97" y1="734.60" x2="378.97" y2="737.60" stroke="#404040" stroke-width="1"/>
<text x="378.97" y="749.30" text-anchor="middle">1</text>
<line x1="394.58" y1="734.60" x2="394.58" y2="737.60" stroke="#404040" stroke-width="1"/>
<line x1="410.20" y1="734.60" x2="410.20" y2="737.60" stroke="#404040" stroke-width="1"/>
<line x1="425.82" y1="734.60" x2="425.82" y2="737.60" stroke="#404040" stroke-width="1"/>
<line x1="441.43" y1="734.60" x2="441.43" y2="737.60" stroke="#404040" stroke-width="1"/>
<text x="441.43" y="749.30" text-anchor="middle">2</text>
<line x1="457.05" y1="734.60" x2="457.05" y2="737.60" stroke="#404040" stroke-width="1"/>
<line x1="472.67" y1="734.60" x2="472.67" y2="737.60" stroke="#404040" stroke-width="1"/>
<line x1="488.28" y1="734.60" x2="488.28" y2="737.60" stroke="#404040" stroke-width="1"/>
<line x1="503.90" y1="734.60" x2="503.90" y2="737.60" stroke="#404040" stroke-width="1"/>
<text x="503.90" y="749.30" text-anchor="middle">3</text>
<path d="M316.50 560.20V734.60H504.00V560.20" fill="none" stroke="#404040" stroke-width="1.1"/>
<text transform="translate(292.40,636.30) rotate(-90)" text-anchor="middle" font-size="9.45">Cumulative Infiltration Fp (cm)</text>
<text transform="translate(534.50,637.70) rotate(-90)" text-anchor="middle" font-size="9.25">Infiltration Rate fp (cm/hr)</text>
<text x="410.20" y="763.50" text-anchor="middle" font-weight="bold" fill="#000" font-size="9.7">Time (hrs)</text>
<path d="M342.40 577.80L345.50 572.40L348.60 577.80Z" fill="#7c7c7c"/>
<text x="350.30" y="578.20" font-size="9.6" fill="#404040">Cummulative Infiltration</text>
<path d="M346.00 588.20L348.80 591.00L346.00 593.80L343.20 591.00Z" fill="#1a6bd0"/>
<text x="350.30" y="594.10" font-size="9.6" fill="#404040">Infiltration Rate</text>
<path d="M312.40 738.55L316.50 731.25L320.60 738.55Z" fill="#808080"/>
<path d="M332.50 734.45L336.60 727.15L340.70 734.45Z" fill="#808080"/>
<path d="M351.50 730.85L355.60 723.55L359.70 730.85Z" fill="#808080"/>
<path d="M368.70 727.75L372.80 720.45L376.90 727.75Z" fill="#808080"/>
<path d="M397.10 721.85L401.20 714.55L405.30 721.85Z" fill="#808080"/>
<path d="M417.40 718.65L421.50 711.35L425.60 718.65Z" fill="#808080"/>
<path d="M425.40 718.05L429.50 710.75L433.60 718.05Z" fill="#808080"/>
<path d="M454.90 711.85L459.00 704.55L463.10 711.85Z" fill="#808080"/>
<path d="M484.50 706.45L488.60 699.15L492.70 706.45Z" fill="#808080"/>
<path d="M337.80 698.75L341.55 702.50L337.80 706.25L334.05 702.50Z" fill="#1a6bd0"/>
<path d="M355.60 701.55L359.35 705.30L355.60 709.05L351.85 705.30Z" fill="#1a6bd0"/>
<path d="M373.30 701.05L377.05 704.80L373.30 708.55L369.55 704.80Z" fill="#1a6bd0"/>
<path d="M401.20 705.85L404.95 709.60L401.20 713.35L397.45 709.60Z" fill="#1a6bd0"/>
<path d="M421.00 704.65L424.75 708.40L421.00 712.15L417.25 708.40Z" fill="#1a6bd0"/>
<path d="M429.50 706.75L433.25 710.50L429.50 714.25L425.75 710.50Z" fill="#1a6bd0"/>
<path d="M459.00 704.55L462.75 708.30L459.00 712.05L455.25 708.30Z" fill="#1a6bd0"/>
<path d="M488.60 707.65L492.35 711.40L488.60 715.15L484.85 711.40Z" fill="#1a6bd0"/>
<path d="M316.50 734.60L503.90 700.00" fill="none" stroke="#1a1a1a" stroke-width="1.15" stroke-dasharray="3.5 2.5"/>
<path d="M316.50 698.90L319.62 699.54L322.75 700.15L325.87 700.72L328.99 701.26L332.12 701.78L335.24 702.27L338.36 702.73L341.49 703.17L344.61 703.58L347.73 703.97L350.86 704.34L353.98 704.70L357.10 705.03L360.23 705.35L363.35 705.65L366.47 705.93L369.60 706.20L372.72 706.45L375.84 706.69L378.97 706.92L382.09 707.14L385.21 707.34L388.34 707.53L391.46 707.72L394.58 707.89L397.71 708.05L400.83 708.21L403.95 708.36L407.08 708.50L410.20 708.63L413.32 708.76L416.45 708.87L419.57 708.99L422.69 709.09L425.82 709.19L428.94 709.29L432.06 709.38L435.19 709.47L438.31 709.55L441.43 709.62L444.56 709.70L447.68 709.77L450.80 709.83L453.93 709.89L457.05 709.95L460.17 710.01L463.30 710.06L466.42 710.11L469.54 710.16L472.67 710.20L475.79 710.24L478.91 710.28L482.04 710.32L485.16 710.36L488.28 710.39L491.41 710.42L494.53 710.45L497.65 710.48L500.78 710.51L503.90 710.54" fill="none" stroke="#1a1a1a" stroke-width="1.15" stroke-dasharray="3.5 2.5"/>
</svg></body></html>
